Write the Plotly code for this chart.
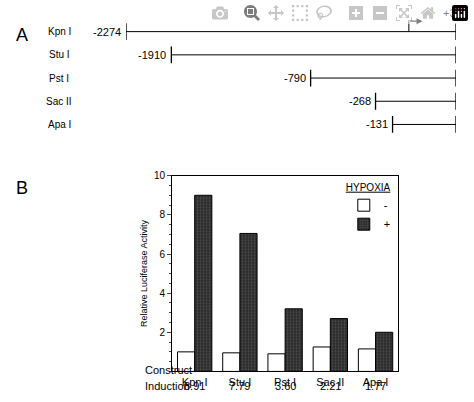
import plotly.graph_objects as go

enzymes = ["Kpn I", "Stu I", "Pst I", "Sac II", "Apa I"]
starts = [-2274, -1910, -790, -268, -131]
end = 379
tss = 0
normoxia = [1.0, 0.95, 0.9, 1.25, 1.15]
hypoxia = [9.0, 7.05, 3.2, 2.7, 2.0]
induction = ["8.91", "7.79", "3.60", "2.21", "1.77"]

F = "Liberation Sans, Arial, sans-serif"
fig = go.Figure()

# Panel A
for i, (e, s) in enumerate(zip(enzymes, starts)):
    fig.add_trace(go.Scatter(x=[s, end], y=[i, i], mode="lines+markers", xaxis="x2", yaxis="y2",
                             line=dict(color="black", width=1),
                             marker=dict(symbol="line-ns", size=12, line=dict(color="black", width=1.3)),
                             showlegend=False, hoverinfo="skip"))
    fig.add_annotation(x=s, y=i, xref="x2", yref="y2", text=f"{s}", showarrow=False,
                       xanchor="right", xshift=-3, font=dict(size=11, family=F))
    fig.add_annotation(x=0.125, y=i, xref="paper", yref="y2", text=e, showarrow=False,
                       xanchor="center", font=dict(size=10, family=F))
fig.add_trace(go.Scatter(x=[tss, tss], y=[0, -0.45], mode="lines", xaxis="x2", yaxis="y2",
                         line=dict(color="black", width=1), showlegend=False, hoverinfo="skip"))
fig.add_annotation(x=tss + 110, y=-0.45, ax=tss, ay=-0.45, xref="x2", yref="y2", axref="x2", ayref="y2",
                   text="", showarrow=True, arrowhead=2, arrowsize=1, arrowwidth=1.2, arrowcolor="black")
fig.add_annotation(x=end, y=0, xref="x2", yref="y2", text="+379", showarrow=False,
                   yshift=19, font=dict(size=11, family=F))

# Panel B
fig.add_trace(go.Bar(x=enzymes, y=normoxia, name="-", marker=dict(color="white", line=dict(color="black", width=1))))
fig.add_trace(go.Bar(x=enzymes, y=hypoxia, name="+",
                     marker=dict(color="#3a3a3a", line=dict(color="black", width=1),
                                 pattern=dict(shape=".", fgcolor="#777", bgcolor="#2a2a2a", size=3, solidity=0.3))))
for e, v in zip(enzymes, induction):
    fig.add_annotation(x=e, y=0.02, xref="x", yref="paper", text=v, showarrow=False,
                       font=dict(size=11, family=F))
fig.add_annotation(x=0.302, y=0.06, xref="paper", yref="paper", text="Construct", showarrow=False,
                   xanchor="left", font=dict(size=11, family=F))
fig.add_annotation(x=0.302, y=0.02, xref="paper", yref="paper", text="Induction", showarrow=False,
                   xanchor="left", font=dict(size=11, family=F))
fig.add_annotation(x=0.03, y=0.955, xref="paper", yref="paper", text="A", showarrow=False,
                   font=dict(size=18, family=F))
fig.add_annotation(x=0.03, y=0.54, xref="paper", yref="paper", text="B", showarrow=False,
                   font=dict(size=18, family=F))

fig.update_layout(
    width=474, height=402, margin=dict(l=0, r=0, t=0, b=0),
    plot_bgcolor="white", paper_bgcolor="white", font=dict(family=F, size=10, color="black"),
    barmode="group", bargap=0.24, bargroupgap=0,
    xaxis=dict(domain=[0.363, 0.840], showline=True, mirror=True, linecolor="black", ticks="",
               tickfont=dict(size=11), anchor="y"),
    yaxis=dict(domain=[0.077, 0.570], range=[0, 10], showline=True, mirror=True, linecolor="black",
               ticks="outside", ticklen=4, tickvals=[2, 4, 6, 8, 10], showgrid=False, zeroline=False,
               minor=dict(ticks="outside", ticklen=2, dtick=0.5),
               title=dict(text="Relative Luciferase Activity", font=dict(size=9), standoff=4), anchor="x"),
    xaxis2=dict(domain=[0.266, 0.962], range=[-2274, 379], visible=False, anchor="y2"),
    yaxis2=dict(domain=[0.664, 0.975], range=[4.6, -0.72], visible=False, anchor="x2"),
    legend=dict(title=dict(text="<u>HYPOXIA</u>", font=dict(size=10)), x=0.835, xanchor="right",
                y=0.565, yanchor="top", bgcolor="rgba(0,0,0,0)", font=dict(size=11), tracegroupgap=0,
                itemwidth=30),
)
fig.write_html("out.html", post_script="document.body.style.margin='0';")
